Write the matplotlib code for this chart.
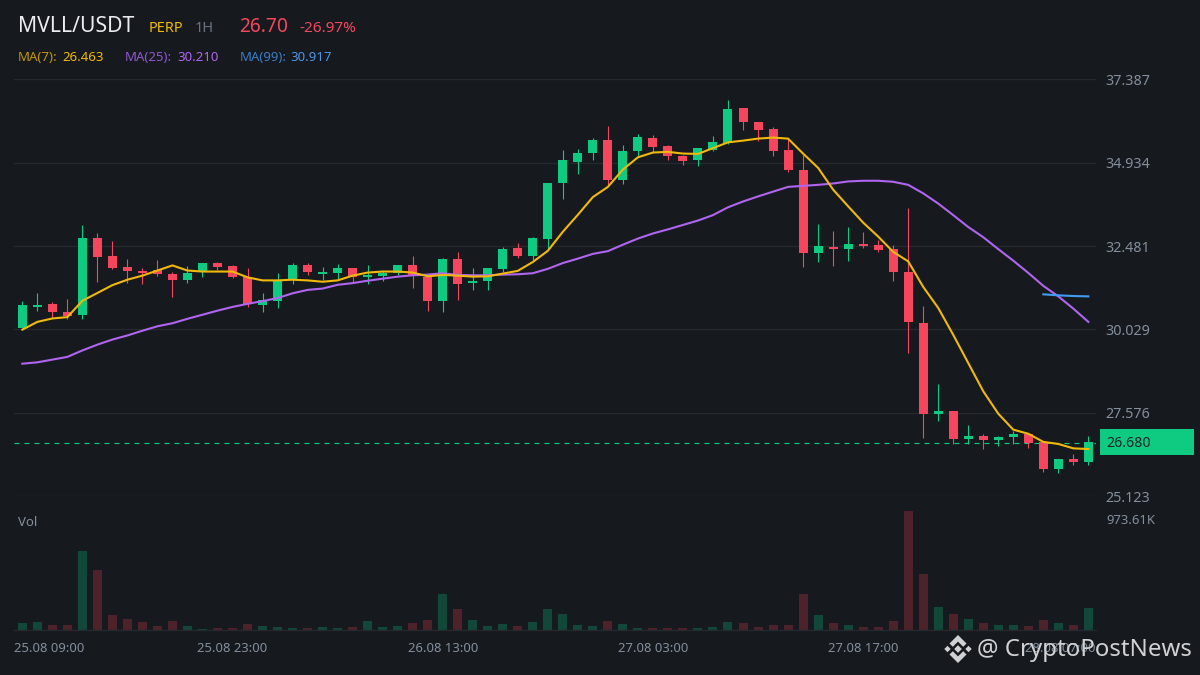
import numpy as np
import matplotlib
matplotlib.use("Agg")
import matplotlib.pyplot as plt
from matplotlib.patches import Polygon
from matplotlib.transforms import ScaledTranslation

plt.rcParams['font.family'] = ['Noto Sans', 'DejaVu Sans']

# candles, hourly
opens = [30.08, 30.70, 30.79, 30.55, 30.46, 32.73, 32.20, 31.87, 31.75, 31.79, 31.67, 31.49,
         31.73, 31.99, 31.90, 31.58, 30.76, 30.87, 31.49, 31.93, 31.67, 31.70, 31.84, 31.58,
         31.61, 31.70, 31.93, 31.58, 30.87, 32.11, 31.40, 31.46, 31.81, 32.43, 32.20, 32.70,
         34.34, 34.96, 35.23, 35.61, 34.43, 35.28, 35.67, 35.43, 35.14, 35.02, 35.31, 35.52,
         36.55, 36.14, 35.93, 35.31, 34.73, 32.29, 32.46, 32.40, 32.55, 32.52, 32.40, 31.73,
         30.23, 27.55, 27.64, 26.81, 26.90, 26.79, 26.87, 26.96, 26.73, 25.93, 26.23, 26.14]
highs = [30.87, 31.11, 30.84, 30.93, 33.11, 32.87, 32.64, 32.11, 31.84, 32.08, 31.73, 31.90,
         31.99, 32.02, 31.93, 31.84, 31.11, 31.70, 31.99, 31.99, 31.87, 31.96, 31.84, 31.93,
         31.75, 31.93, 32.20, 31.61, 32.14, 32.31, 31.84, 31.84, 32.46, 32.58, 32.76, 34.34,
         35.31, 35.34, 35.67, 36.02, 35.46, 35.78, 35.75, 35.46, 35.17, 35.37, 35.73, 36.78,
         36.55, 36.14, 35.99, 35.64, 35.17, 33.14, 32.93, 33.05, 32.90, 32.67, 32.52, 33.61,
         30.73, 28.43, 27.64, 27.23, 26.96, 26.90, 27.05, 26.96, 26.73, 26.23, 26.37, 26.90]
lows = [30.08, 30.58, 30.37, 30.34, 30.34, 31.43, 31.81, 31.40, 31.37, 31.61, 30.99, 31.40,
        31.58, 31.79, 31.55, 30.70, 30.55, 30.67, 31.37, 31.64, 31.49, 31.49, 31.40, 31.37,
        31.46, 31.64, 31.26, 30.58, 30.55, 30.90, 31.20, 31.20, 31.73, 32.14, 32.08, 32.40,
        33.87, 34.61, 35.02, 34.25, 34.31, 35.14, 35.25, 35.02, 34.87, 34.84, 35.28, 35.49,
        35.90, 35.58, 35.14, 34.67, 31.87, 32.02, 31.90, 32.05, 32.43, 32.31, 31.46, 29.34,
        26.84, 27.32, 26.67, 26.67, 26.52, 26.61, 26.67, 26.55, 25.84, 25.81, 26.05, 26.05]
closes = [30.76, 30.76, 30.55, 30.41, 32.73, 32.17, 31.84, 31.75, 31.70, 31.67, 31.49, 31.70,
          31.99, 31.87, 31.58, 30.79, 30.90, 31.46, 31.93, 31.73, 31.73, 31.84, 31.58, 31.64,
          31.70, 31.93, 31.61, 30.87, 32.11, 31.37, 31.46, 31.84, 32.40, 32.20, 32.73, 34.34,
          35.02, 35.23, 35.61, 34.43, 35.28, 35.70, 35.40, 35.14, 34.99, 35.37, 35.55, 36.52,
          36.14, 35.90, 35.28, 34.73, 32.29, 32.49, 32.40, 32.55, 32.49, 32.37, 31.73, 30.26,
          27.55, 27.64, 26.81, 26.90, 26.79, 26.87, 26.96, 26.70, 25.93, 26.23, 26.14, 26.73]
# volume in thousands
volumes = [60, 68, 44, 44, 644, 488, 126, 93, 68, 35, 77, 35,
           11, 19, 19, 52, 35, 27, 19, 19, 27, 19, 27, 77,
           27, 35, 60, 85, 291, 175, 85, 35, 52, 35, 68, 175,
           134, 44, 35, 77, 52, 19, 19, 19, 19, 19, 27, 68,
           60, 27, 44, 44, 291, 126, 60, 44, 27, 27, 77, 974,
           455, 192, 134, 93, 60, 44, 44, 35, 85, 60, 44, 184]
ma7 = [30.02, 30.25, 30.35, 30.39, 30.87, 31.10, 31.33, 31.49, 31.61, 31.76, 31.91, 31.76,
       31.73, 31.73, 31.73, 31.56, 31.47, 31.47, 31.49, 31.47, 31.43, 31.47, 31.61, 31.70,
       31.73, 31.73, 31.70, 31.59, 31.63, 31.61, 31.58, 31.59, 31.67, 31.75, 32.01, 32.34,
       32.90, 33.40, 33.92, 34.22, 34.73, 35.09, 35.23, 35.25, 35.20, 35.19, 35.36, 35.53,
       35.58, 35.64, 35.67, 35.64, 35.20, 34.78, 34.14, 33.65, 33.17, 32.76, 32.31, 32.03,
       31.28, 30.66, 29.87, 29.04, 28.21, 27.55, 27.08, 26.96, 26.72, 26.66, 26.53, 26.51]
ma25 = [29.02, 29.06, 29.14, 29.22, 29.41, 29.58, 29.73, 29.85, 29.99, 30.12, 30.21, 30.34,
        30.46, 30.58, 30.69, 30.78, 30.86, 30.95, 31.09, 31.19, 31.23, 31.34, 31.39, 31.46,
        31.52, 31.58, 31.62, 31.64, 31.68, 31.63, 31.62, 31.62, 31.64, 31.65, 31.68, 31.81,
        31.98, 32.11, 32.25, 32.33, 32.52, 32.70, 32.85, 32.97, 33.10, 33.23, 33.39, 33.62,
        33.79, 33.94, 34.08, 34.22, 34.25, 34.28, 34.32, 34.38, 34.40, 34.40, 34.37, 34.28,
        34.03, 33.73, 33.39, 33.04, 32.74, 32.39, 32.05, 31.69, 31.31, 31.00, 30.64, 30.25]
ma99 = [31.06, 31.03, 31.01, 31.00]

price_ticks = [37.387, 34.934, 32.481, 30.029, 27.576, 25.123]
time_ticks = [0, 14, 28, 42, 56, 69.1]
time_labels = ["25.08 09:00", "25.08 23:00", "26.08 13:00", "27.08 03:00", "27.08 17:00", "28.08 07:00"]
last_price = 26.68

BG = "#161A1E"
GRID = "#25292E"
GREEN = "#0ECB81"
RED = "#F6465D"
GREY = "#848E9C"
W, H = 1200, 675
LEFT, RIGHT = 14, 1096

fig = plt.figure(figsize=(12, 6.75), dpi=100, facecolor=BG)


def axes_px(x0, y0, x1, y1):
    return fig.add_axes([x0 / W, 1 - y1 / H, (x1 - x0) / W, (y1 - y0) / H], facecolor="none")


ax = axes_px(LEFT, 79.2, RIGHT, 496.2)
ax_vol = axes_px(LEFT, 511, RIGHT, 630)
x = np.arange(len(closes))
colors = [GREEN if c >= o else RED for o, c in zip(opens, closes)]
vol_colors = ["#12483A" if c >= o else "#4E222B" for o, c in zip(opens, closes)]
xlim = (-0.553, 71.51)

# price panel
ax.vlines(x, lows, highs, colors=colors, linewidth=0.8, zorder=3)
ax.bar(x, np.abs(np.array(closes) - np.array(opens)), bottom=np.minimum(opens, closes),
       width=0.6, color=colors, linewidth=0, zorder=3)
ax.plot(x, ma25, color="#B065F0", linewidth=1.5, zorder=4)
ax.plot(x[-len(ma99):], ma99, color="#3F9CF0", linewidth=1.5, zorder=4)
ax.plot(x, ma7, color="#F0B90B", linewidth=1.5, zorder=5)
ax.axhline(last_price, color=GREEN, linewidth=0.8, dashes=(4.5, 4.5), zorder=2)
ax.set_xlim(xlim)
ax.set_ylim(price_ticks[-1], price_ticks[0])
ax.set_yticks(price_ticks)
ax.set_yticklabels(["%.3f" % p for p in price_ticks])
ax.yaxis.tick_right()
ax.tick_params(axis="y", length=0, pad=7, labelsize=10.3, labelcolor=GREY)
ax.set_xticks([])
ax.grid(axis="y", color=GRID, linewidth=1, zorder=0)
for s in ax.spines.values():
    s.set_visible(False)

# volume panel
ax_vol.bar(x, volumes, width=0.6, color=vol_colors, linewidth=0)
ax_vol.set_xlim(xlim)
ax_vol.set_ylim(0, 974)
ax_vol.set_yticks([])
ax_vol.set_xticks(time_ticks)
ax_vol.set_xticklabels(time_labels)
ax_vol.tick_params(axis="x", length=0, pad=8.5, labelsize=9.4, labelcolor=GREY)
first = ax_vol.get_xticklabels()[0]
first.set_ha("left")
first.set_transform(first.get_transform() + ScaledTranslation(-8.3 / 100, 0, fig.dpi_scale_trans))
for s in ax_vol.spines.values():
    s.set_visible(False)
ax_vol.spines["bottom"].set_visible(True)
ax_vol.spines["bottom"].set_color(GRID)
ax_vol.spines["bottom"].set_linewidth(1)

# everything placed by hand goes on a pixel overlay
top = fig.add_axes([0, 0, 1, 1], facecolor="none")
top.set_xlim(0, W)
top.set_ylim(H, 0)
top.axis("off")

top.text(18, 27, "MVLL/USDT", color="#EAECEF", fontsize=15.3, va="center")
top.text(149, 29, "PERP", color="#F0B90B", fontsize=10.5, va="center")
top.text(195, 29, "1H", color="#6B7280", fontsize=10.5, va="center")
top.text(239, 27.5, "26.70", color=RED, fontsize=13.8, va="center")
top.text(299, 29, "-26.97%", color=RED, fontsize=11, va="center")

ma_labels = [(18, "MA(7):", 62, "26.463", "#C2960E", "#F0B90B"),
             (125, "MA(25):", 177, "30.210", "#8E58CF", "#B065F0"),
             (240, "MA(99):", 290, "30.917", "#3B7CC4", "#4A96E6")]
for x0, name, x1, val, c0, c1 in ma_labels:
    top.text(x0, 57.5, name, color=c0, fontsize=9.5, va="center")
    top.text(x1, 57.5, val, color=c1, fontsize=9.5, va="center")

top.text(18, 523, "Vol", color=GREY, fontsize=9.5, va="center")
top.text(1106, 520, "973.61K", color=GREY, fontsize=9.4, va="center")

top.add_patch(plt.Rectangle((1100, 429), 94, 26, color=GREEN, linewidth=0))
top.text(1106, 443.5, "26.680", color="#1E2329", fontsize=10.3, va="center")

# watermark
mark = "#CFD1D3"
cx, cy = 958, 649
for dx, r in [(-10.5, 3.2), (10.5, 3.2), (0, 3.8)]:
    top.add_patch(Polygon([(cx + dx - r, cy), (cx + dx, cy - r), (cx + dx + r, cy), (cx + dx, cy + r)],
                          color=mark, linewidth=0))
for sign in (-1, 1):
    top.add_patch(Polygon([(cx, cy + sign * 14), (cx + 8.5, cy + sign * 5.5), (cx + 5.2, cy + sign * 2.2),
                           (cx, cy + sign * 7.4), (cx - 5.2, cy + sign * 2.2), (cx - 8.5, cy + sign * 5.5)],
                          color=mark, linewidth=0))
top.text(977, 650, "@ CryptoPostNews", color=mark, fontsize=17.3, va="center")

fig.savefig("out.png", dpi=100, facecolor=BG)
